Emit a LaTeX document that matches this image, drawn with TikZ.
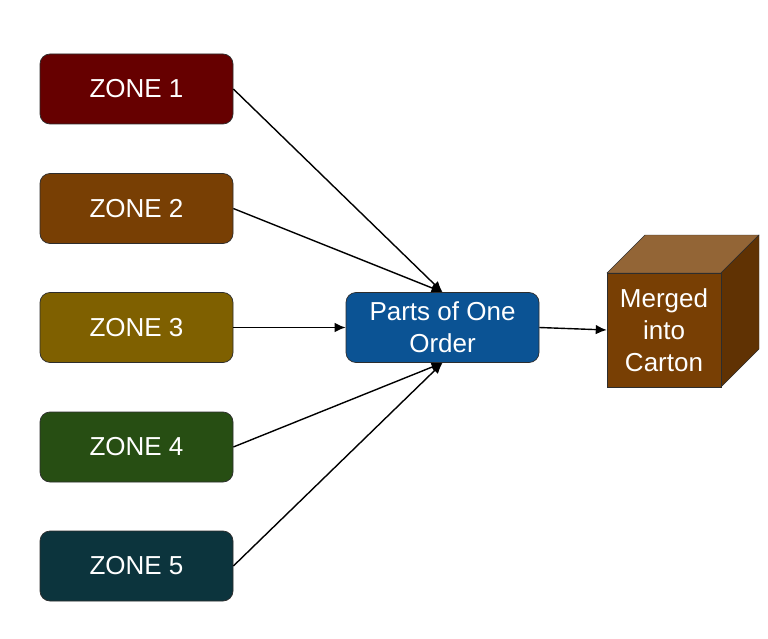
\documentclass[tikz,border=0pt]{standalone}
\usepackage{fontspec}
\setmainfont{Liberation Sans}
\usetikzlibrary{arrows.meta}
\definecolor{zo}{RGB}{102,0,0}
\definecolor{zt}{RGB}{120,63,4}
\definecolor{zh}{RGB}{127,96,0}
\definecolor{zf}{RGB}{39,78,19}
\definecolor{zv}{RGB}{12,52,61}
\definecolor{pb}{RGB}{11,83,148}
\definecolor{ctop}{RGB}{147,101,54}
\definecolor{cside}{RGB}{96,50,3}
\definecolor{edge}{RGB}{45,45,45}
\tikzset{x=1pt,y=-1pt,
 zonebox/.style={draw=edge,line width=.7pt,rounded corners=10pt,minimum width=193pt,minimum height=70pt,text=white,font=\fontsize{26}{32}\selectfont,inner sep=0pt,align=center},
 conn/.style={draw=black,line width=1.4pt,-{Latex[length=11pt,width=9.5pt]}}}
\begin{document}
\begin{tikzpicture}
\useasboundingbox (0,0) rectangle (768,639);
\fill[white] (0,0) rectangle (768,639);
\node[zonebox,fill=zo] (z1) at (136.5,89) {ZONE 1};
\node[zonebox,fill=zt] (z2) at (136.5,208.5) {ZONE 2};
\node[zonebox,fill=zh] (z3) at (136.5,327.5) {ZONE 3};
\node[zonebox,fill=zf] (z4) at (136.5,447) {ZONE 4};
\node[zonebox,fill=zv] (z5) at (136.5,566) {ZONE 5};
\node[zonebox,fill=pb] (p) at (442.5,327.5) {Parts of One\\Order};
\fill[ctop,draw=edge,line width=.4pt] (607,273) -- (645,235) -- (759,235) -- (721,273) -- cycle;
\fill[cside,draw=edge,line width=.4pt] (721,273) -- (759,235) -- (759,349) -- (721,387) -- cycle;
\node[draw=edge,line width=.4pt,fill=zt,minimum width=114pt,minimum height=114pt,inner sep=0pt,text=white,align=center,font=\fontsize{26}{32}\selectfont] (c) at (664,330) {Merged\\into\\Carton};
\draw[conn] (z1.east) -- (p.north);
\draw[conn] (z2.east) -- (p.north);
\draw[conn] (z3.east) -- (p.west);
\draw[conn] (z4.east) -- (p.south);
\draw[conn] (z5.east) -- (p.south);
\draw[conn] (p.east) -- (c.west);
\end{tikzpicture}
\end{document}
